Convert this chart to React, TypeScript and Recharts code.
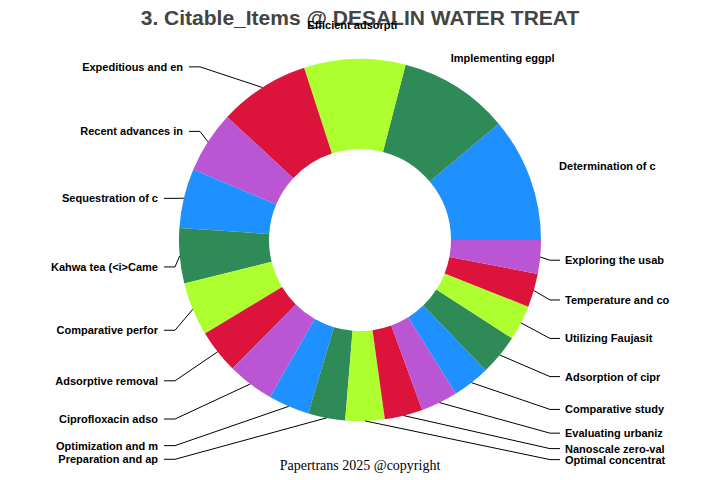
import React from 'react';
import { PieChart, Pie, Cell } from 'recharts';

const categories = [
  'Determination of c',
  'Implementing eggpl',
  'Efficient adsorpti',
  'Expeditious and en',
  'Recent advances in',
  'Sequestration of c',
  'Kahwa tea (<i>Came',
  'Comparative perfor',
  'Adsorptive removal',
  'Ciprofloxacin adso',
  'Optimization and m',
  'Preparation and ap',
  'Optimal concentrat',
  'Nanoscale zero-val',
  'Evaluating urbaniz',
  'Comparative study',
  'Adsorption of cipr',
  'Utilizing Faujasit',
  'Temperature and co',
  'Exploring the usab',
];

const values = [
  40.0, 35.4, 32.6, 29.2, 19.9, 19.1, 17.7, 17.2, 14.1, 15.0,
  13.2, 11.9, 12.6, 12.2, 11.9, 12.0, 13.1, 11.3, 10.8, 10.8,
];

const sliceColors = ['#1E90FF', '#2E8B57', '#ADFF2F', '#DC143C', '#BA55D3'];

const titleText = '3. Citable_Items @ DESALIN WATER TREAT';
const footerText = 'Papertrans 2025 @copyright';

const W = 720;
const H = 480;
const CX = 360;
const CY = 240;
const OUTER = 181;
const INNER = 91;
const SANS = '"Liberation Sans", Arial, Helvetica, sans-serif';
const SERIF = '"Liberation Serif", "Times New Roman", serif';
const RAD = Math.PI / 180;

const data = categories.map((name, i) => ({ name, value: values[i] }));

let measureCtx: CanvasRenderingContext2D | null = null;
function textWidth(s: string): number {
  if (!measureCtx) {
    const c = document.createElement('canvas');
    measureCtx = c.getContext('2d');
  }
  if (!measureCtx) return s.length * 5.6;
  measureCtx.font = `bold 11px ${SANS}`;
  return measureCtx.measureText(s).width;
}

type LabelLayout = { x: number; y: number; anchor: 'start' | 'end'; elbow: number | null; lineEnd: number | null };

function buildLayout(): LabelLayout[] {
  const total = values.reduce((a, b) => a + b, 0);
  let acc = 0;
  const items = values.map((v, i) => {
    const start = (acc / total) * 360;
    acc += v;
    const end = (acc / total) * 360;
    const mid = (start + end) / 2;
    const c = Math.cos(mid * RAD);
    const s = Math.sin(mid * RAD);
    return { i, share: v / total, c, s, x0: CX + OUTER * c, y: 0, right: c >= 0 };
  });
  const LR = OUTER + 34;
  const out: LabelLayout[] = new Array(values.length);
  const rightList: typeof items = [];
  const leftList: typeof items = [];
  items.forEach((it) => {
    if (it.share > 0.085) {
      const w = textWidth(categories[it.i]);
      const px = CX + LR * it.c;
      const f = (1 - it.c) / 2;
      out[it.i] = { x: px - f * w, y: CY - LR * it.s, anchor: 'start', elbow: null, lineEnd: null };
    } else {
      it.y = CY - LR * it.s + (it.right ? 0 : 8);
      (it.right ? rightList : leftList).push(it);
    }
  });
  const GAP = 11;
  [rightList, leftList].forEach((list) => {
    list.sort((a, b) => a.y - b.y);
    for (let k = 1; k < list.length; k++) {
      if (list[k].y - list[k - 1].y < GAP) list[k].y = list[k - 1].y + GAP;
    }
  });
  rightList.forEach((it) => {
    const ex = CX + OUTER + 9;
    const le = ex + 10;
    out[it.i] = { x: le + 5, y: it.y, anchor: 'start', elbow: ex, lineEnd: le };
  });
  leftList.forEach((it) => {
    const innerCol = it.s > 0 && it.x0 - (CX - OUTER) > 15;
    const ex = innerCol ? CX - OUTER + 21 : CX - OUTER - 4;
    const le = ex - 11;
    out[it.i] = { x: le - 6, y: it.y, anchor: 'end', elbow: ex, lineEnd: le };
  });
  return out;
}

export default function App() {
  const layout = React.useMemo(() => buildLayout(), []);

  const renderLabel = (props: any) => {
    const { index, midAngle, outerRadius } = props;
    const pcx = Number(props.cx);
    const pcy = Number(props.cy);
    const L = layout[index];
    if (!L) return null;
    const x0 = pcx + outerRadius * Math.cos(-midAngle * RAD);
    const y0 = pcy + outerRadius * Math.sin(-midAngle * RAD);
    return (
      <g key={`lbl-${index}`}>
        {L.elbow !== null && L.lineEnd !== null ? (
          <path
            d={`M${x0},${y0}L${L.elbow},${L.y}L${L.lineEnd},${L.y}`}
            stroke="#000"
            strokeWidth={1}
            fill="none"
          />
        ) : null}
        <text
          x={L.x}
          y={L.y + 4}
          textAnchor={L.anchor}
          fontFamily={SANS}
          fontSize={11}
          fontWeight="bold"
          fill="#000"
        >
          {categories[index]}
        </text>
      </g>
    );
  };

  return (
    <div style={{ position: 'fixed', left: 0, top: 0, width: W, height: H, background: '#fff' }}>
      <svg width={W} height={H} style={{ position: 'absolute', left: 0, top: 0 }}>
        <text
          x={CX}
          y={24.5}
          textAnchor="middle"
          fontFamily={SANS}
          fontSize={21}
          fontWeight="bold"
          fill="#444444"
        >
          {titleText}
        </text>
        <text x={CX} y={470} textAnchor="middle" fontFamily={SERIF} fontSize={14} fill="#000">
          {footerText}
        </text>
      </svg>
      <div style={{ position: 'absolute', left: 0, top: 0 }}>
        <PieChart width={W} height={H} margin={{ top: 0, right: 0, bottom: 0, left: 0 }}>
          <Pie
            data={data}
            dataKey="value"
            nameKey="name"
            cx={CX}
            cy={CY}
            innerRadius={INNER}
            outerRadius={OUTER}
            startAngle={0}
            endAngle={360}
            paddingAngle={0}
            stroke="none"
            isAnimationActive={false}
            labelLine={false}
            label={renderLabel}
          >
            {data.map((d, i) => (
              <Cell key={d.name} fill={sliceColors[i % sliceColors.length]} stroke="none" />
            ))}
          </Pie>
        </PieChart>
      </div>
    </div>
  );
}
